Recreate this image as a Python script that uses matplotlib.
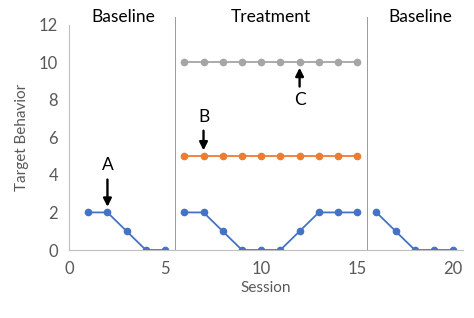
import matplotlib
matplotlib.use('Agg')
import matplotlib.pyplot as plt

# data
base1_x = [1, 2, 3, 4, 5]
base1_y = [2, 2, 1, 0, 0]
treat_x = [6, 7, 8, 9, 10, 11, 12, 13, 14, 15]
treat_blue = [2, 2, 1, 0, 0, 0, 1, 2, 2, 2]
treat_orange = [5, 5, 5, 5, 5, 5, 5, 5, 5, 5]
treat_gray = [10, 10, 10, 10, 10, 10, 10, 10, 10, 10]
base2_x = [16, 17, 18, 19, 20]
base2_y = [2, 1, 0, 0, 0]
phase_lines = [5.5, 15.5]
phase_names = ['Baseline', 'Treatment', 'Baseline']
phase_name_x = [2.8, 10.5, 18.3]
xticks = [0, 5, 10, 15, 20]
yticks = [0, 2, 4, 6, 8, 10, 12]

blue = '#4472C4'
orange = '#ED7D31'
gray = '#A5A5A5'
txt = '#595959'

plt.rcParams['font.family'] = ['Lato', 'DejaVu Sans']

fig = plt.figure(figsize=(4.74, 3.18), dpi=100)
ax = fig.add_axes([0.1456, 0.2138, 0.831, 0.709])

ms = 4.5
lw = 1.3
ax.plot(base1_x, base1_y, color=blue, marker='o', ms=ms, lw=lw)
ax.plot(treat_x, treat_blue, color=blue, marker='o', ms=ms, lw=lw)
ax.plot(treat_x, treat_orange, color=orange, marker='o', ms=ms, lw=lw)
ax.plot(treat_x, treat_gray, color=gray, marker='o', ms=ms, lw=lw)
ax.plot(base2_x, base2_y, color=blue, marker='o', ms=ms, lw=lw)

for p in phase_lines:
    ax.plot([p, p], [0, 12.4], color='#9A9A9A', lw=0.7, clip_on=False)

for name, px in zip(phase_names, phase_name_x):
    ax.text(px, 12.4, name, ha='center', va='center', fontsize=12.5, color='black')

# arrows with letters
arrow = dict(arrowstyle='-|>,head_length=0.4,head_width=0.2', color='black', lw=1.7, mutation_scale=12,
             shrinkA=0, shrinkB=0)
ax.annotate('', xy=(2, 2.3), xytext=(2, 3.75), arrowprops=arrow)
ax.text(2, 4.5, 'A', ha='center', va='center', fontsize=12.5)
ax.annotate('', xy=(7, 5.3), xytext=(7, 6.35), arrowprops=arrow)
ax.text(7, 7.1, 'B', ha='center', va='center', fontsize=12.5)
ax.annotate('', xy=(12, 9.7), xytext=(12, 8.7), arrowprops=arrow)
ax.text(12, 8.0, 'C', ha='center', va='center', fontsize=12.5)

ax.set_xlim(0, 20.5)
ax.set_ylim(0, 12)
ax.set_xticks(xticks)
ax.set_yticks(yticks)
ax.tick_params(length=0, labelsize=12, colors=txt, pad=8)
ax.spines['top'].set_visible(False)
ax.spines['right'].set_visible(False)
ax.spines['left'].set_color('#BFBFBF')
ax.spines['bottom'].set_color('#BFBFBF')
ax.set_xlabel('Session', fontsize=11, color=txt, labelpad=3)
ax.set_ylabel('Target Behavior', fontsize=11, color=txt, labelpad=7)

fig.savefig('out.png', dpi=100)
